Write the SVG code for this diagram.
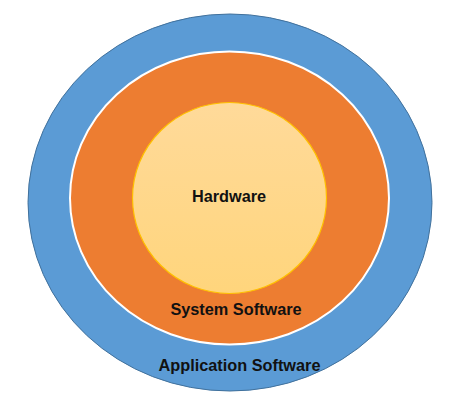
<svg xmlns="http://www.w3.org/2000/svg" width="458" height="402" viewBox="0 0 458 402">
  <defs>
    <linearGradient id="hwGrad" x1="0" y1="0" x2="0" y2="1">
      <stop offset="0" stop-color="#FFDA9A"/>
      <stop offset="1" stop-color="#FFD57C"/>
    </linearGradient>
  </defs>
  <style>
    .lbl { font-family: "Liberation Sans", Arial, sans-serif; font-weight: bold; font-size: 16.3px; fill: #111111; text-anchor: middle; }
  </style>
  <rect width="458" height="402" fill="#FFFFFF"/>
  <g id="application-software">
    <ellipse cx="230" cy="202.5" rx="202" ry="188.5" fill="#5B9BD5" stroke="#41719C" stroke-width="1"/>
    <text class="lbl" x="239.5" y="370.5">Application Software</text>
  </g>
  <g id="system-software">
    <ellipse cx="229.5" cy="198" rx="159.5" ry="146.5" fill="#ED7D31" stroke="#FFFFFF" stroke-width="2"/>
    <text class="lbl" x="236" y="314.5">System Software</text>
  </g>
  <g id="hardware">
    <ellipse cx="229.5" cy="198" rx="97" ry="95.5" fill="url(#hwGrad)" stroke="#FFC000" stroke-width="1.2"/>
    <text class="lbl" x="229" y="201.5">Hardware</text>
  </g>
  <g id="connectors"/>
</svg>
